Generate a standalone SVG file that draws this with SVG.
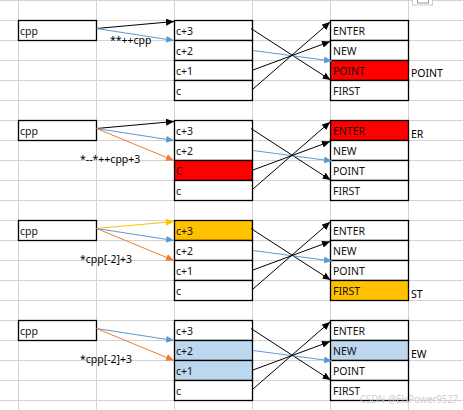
<svg xmlns="http://www.w3.org/2000/svg" width="463" height="410" viewBox="0 0 463 410">
<style>
.grid line{stroke:#d4d4d4;stroke-width:1}
.cell{fill:#fff;stroke:#000;stroke-width:1.3}
.t{font-family:"Noto Sans","Liberation Sans",sans-serif;font-size:10.5px;fill:#111}
.lbl{font-family:"Noto Sans","Liberation Sans",sans-serif;font-size:10.5px;fill:#000}
.red{fill:#ff0000}
.yel{fill:#ffc000}
.lb{fill:#bdd7ee}
.k{stroke:#000;stroke-width:1;fill:none}
.b{stroke:#5b9bd5;stroke-width:1;fill:none}
.o{stroke:#ed7d31;stroke-width:1;fill:none}
.y{stroke:#ffc000;stroke-width:1;fill:none}
</style>
<defs>
<marker id="ak" markerUnits="userSpaceOnUse" markerWidth="9" markerHeight="7" refX="8" refY="3.5" orient="auto"><path d="M0,0 L8,3.5 L0,7 z" fill="#000"/></marker>
<marker id="ab" markerUnits="userSpaceOnUse" markerWidth="9" markerHeight="7" refX="8" refY="3.5" orient="auto"><path d="M0,0 L8,3.5 L0,7 z" fill="#5b9bd5"/></marker>
<marker id="ao" markerUnits="userSpaceOnUse" markerWidth="9" markerHeight="7" refX="8" refY="3.5" orient="auto"><path d="M0,0 L8,3.5 L0,7 z" fill="#ed7d31"/></marker>
<marker id="ay" markerUnits="userSpaceOnUse" markerWidth="9" markerHeight="7" refX="8" refY="3.5" orient="auto"><path d="M0,0 L8,3.5 L0,7 z" fill="#ffc000"/></marker>
</defs>
<rect width="463" height="410" fill="#fff"/>
<g class="grid">
<line x1="0" y1="0.5" x2="463" y2="0.5"/><line x1="0" y1="20.5" x2="463" y2="20.5"/><line x1="0" y1="40.5" x2="463" y2="40.5"/><line x1="0" y1="60.5" x2="463" y2="60.5"/><line x1="0" y1="80.5" x2="463" y2="80.5"/><line x1="0" y1="100.5" x2="463" y2="100.5"/><line x1="0" y1="120.5" x2="463" y2="120.5"/><line x1="0" y1="140.5" x2="463" y2="140.5"/><line x1="0" y1="160.5" x2="463" y2="160.5"/><line x1="0" y1="180.5" x2="463" y2="180.5"/><line x1="0" y1="200.5" x2="463" y2="200.5"/><line x1="0" y1="220.5" x2="463" y2="220.5"/><line x1="0" y1="240.5" x2="463" y2="240.5"/><line x1="0" y1="260.5" x2="463" y2="260.5"/><line x1="0" y1="280.5" x2="463" y2="280.5"/><line x1="0" y1="300.5" x2="463" y2="300.5"/><line x1="0" y1="320.5" x2="463" y2="320.5"/><line x1="0" y1="340.5" x2="463" y2="340.5"/><line x1="0" y1="360.5" x2="463" y2="360.5"/><line x1="0" y1="380.5" x2="463" y2="380.5"/><line x1="0" y1="400.5" x2="463" y2="400.5"/>
<line x1="18.5" y1="0" x2="18.5" y2="410"/><line x1="96.5" y1="0" x2="96.5" y2="410"/><line x1="174.5" y1="0" x2="174.5" y2="410"/><line x1="252.5" y1="0" x2="252.5" y2="410"/><line x1="330.5" y1="0" x2="330.5" y2="410"/><line x1="408.5" y1="0" x2="408.5" y2="410"/>
<rect x="412.5" y="-3" width="20" height="8" fill="#fff" stroke="#ccc"/><rect x="417.5" y="-2" width="11" height="5" fill="#fff" stroke="#999"/>
</g>

<!-- Block 1 -->
<g id="cpp1"><rect class="cell" x="18.5" y="20.5" width="78" height="20"/><text class="t" x="20" y="35">cpp</text></g>
<g id="cp1">
<rect class="cell" x="174.5" y="20.5" width="78" height="20"/><text class="t" x="176" y="35">c+3</text>
<rect class="cell" x="174.5" y="40.5" width="78" height="20"/><text class="t" x="176" y="55">c+2</text>
<rect class="cell" x="174.5" y="60.5" width="78" height="20"/><text class="t" x="176" y="75">c+1</text>
<rect class="cell" x="174.5" y="80.5" width="78" height="20"/><text class="t" x="176" y="95">c</text>
</g>
<g id="c1">
<rect class="cell" x="330.5" y="20.5" width="78" height="20"/><text class="t" x="333" y="35">ENTER</text>
<rect class="cell" x="330.5" y="40.5" width="78" height="20"/><text class="t" x="333" y="55">NEW</text>
<rect class="cell red" x="330.5" y="60.5" width="78" height="20"/><text class="t" x="333" y="75">POINT</text>
<rect class="cell" x="330.5" y="80.5" width="78" height="20"/><text class="t" x="333" y="95">FIRST</text>
</g>
<g id="out1"><text class="lbl" x="411" y="77">POINT</text></g>
<g id="expr1"><text class="lbl" x="110" y="44">**++cpp</text></g>

<!-- Block 2 -->
<g id="cpp2"><rect class="cell" x="18.5" y="120.5" width="78" height="20"/><text class="t" x="20" y="135">cpp</text></g>
<g id="cp2">
<rect class="cell" x="174.5" y="120.5" width="78" height="20"/><text class="t" x="176" y="135">c+3</text>
<rect class="cell" x="174.5" y="140.5" width="78" height="20"/><text class="t" x="176" y="155">c+2</text>
<rect class="cell red" x="174.5" y="160.5" width="78" height="20"/><text class="t" x="176" y="175">C</text>
<rect class="cell" x="174.5" y="180.5" width="78" height="20"/><text class="t" x="176" y="195">c</text>
</g>
<g id="c2">
<rect class="cell red" x="330.5" y="120.5" width="78" height="20"/><text class="t" x="333" y="135">ENTER</text>
<rect class="cell" x="330.5" y="140.5" width="78" height="20"/><text class="t" x="333" y="155">NEW</text>
<rect class="cell" x="330.5" y="160.5" width="78" height="20"/><text class="t" x="333" y="175">POINT</text>
<rect class="cell" x="330.5" y="180.5" width="78" height="20"/><text class="t" x="333" y="195">FIRST</text>
</g>
<g id="out2"><text class="lbl" x="411" y="137.5">ER</text></g>
<g id="expr2"><text class="lbl" x="80" y="162.5">*--*++cpp+3</text></g>

<!-- Block 3 -->
<g id="cpp3"><rect class="cell" x="18.5" y="220.5" width="78" height="20"/><text class="t" x="20" y="235">cpp</text></g>
<g id="cp3">
<rect class="cell yel" x="174.5" y="220.5" width="78" height="20"/><text class="t" x="176" y="235">c+3</text>
<rect class="cell" x="174.5" y="240.5" width="78" height="20"/><text class="t" x="176" y="255">c+2</text>
<rect class="cell" x="174.5" y="260.5" width="78" height="20"/><text class="t" x="176" y="275">c+1</text>
<rect class="cell" x="174.5" y="280.5" width="78" height="20"/><text class="t" x="176" y="295">c</text>
</g>
<g id="c3">
<rect class="cell" x="330.5" y="220.5" width="78" height="20"/><text class="t" x="333" y="235">ENTER</text>
<rect class="cell" x="330.5" y="240.5" width="78" height="20"/><text class="t" x="333" y="255">NEW</text>
<rect class="cell" x="330.5" y="260.5" width="78" height="20"/><text class="t" x="333" y="275">POINT</text>
<rect class="cell yel" x="330.5" y="280.5" width="78" height="20"/><text class="t" x="333" y="295">FIRST</text>
</g>
<g id="out3"><text class="lbl" x="411" y="298">ST</text></g>
<g id="expr3"><text class="lbl" x="80" y="262.5">*cpp[-2]+3</text></g>

<!-- Block 4 -->
<g id="cpp4"><rect class="cell" x="18.5" y="320.5" width="78" height="20"/><text class="t" x="20" y="335">cpp</text></g>
<g id="cp4">
<rect class="cell" x="174.5" y="320.5" width="78" height="20"/><text class="t" x="176" y="335">c+3</text>
<rect class="cell lb" x="174.5" y="340.5" width="78" height="20"/><text class="t" x="176" y="355">c+2</text>
<rect class="cell lb" x="174.5" y="360.5" width="78" height="20"/><text class="t" x="176" y="375">c+1</text>
<rect class="cell" x="174.5" y="380.5" width="78" height="20"/><text class="t" x="176" y="395">c</text>
</g>
<g id="c4">
<rect class="cell" x="330.5" y="320.5" width="78" height="20"/><text class="t" x="333" y="335">ENTER</text>
<rect class="cell lb" x="330.5" y="340.5" width="78" height="20"/><text class="t" x="333" y="355">NEW</text>
<rect class="cell" x="330.5" y="360.5" width="78" height="20"/><text class="t" x="333" y="375">POINT</text>
<rect class="cell" x="330.5" y="380.5" width="78" height="20"/><text class="t" x="333" y="395">FIRST</text>
</g>
<g id="out4"><text class="lbl" x="411" y="357.5">EW</text></g>
<g id="expr4"><text class="lbl" x="80" y="362.5">*cpp[-2]+3</text></g>

<g id="connectors">
<!-- block 1 -->
<line class="k" x1="96.5" y1="28.5" x2="174" y2="21.5" marker-end="url(#ak)"/>
<line class="b" x1="96.5" y1="28.5" x2="174" y2="40.5" marker-end="url(#ab)"/>
<line class="k" x1="251" y1="28.5" x2="330.5" y2="80" marker-end="url(#ak)"/>
<line class="b" x1="253" y1="50.5" x2="332" y2="61" marker-end="url(#ab)"/>
<line class="k" x1="253" y1="70" x2="330" y2="41.5" marker-end="url(#ak)"/>
<line class="k" x1="253" y1="89" x2="330" y2="22" marker-end="url(#ak)"/>
<!-- block 2 -->
<line class="k" x1="96.5" y1="128.5" x2="174" y2="121.5" marker-end="url(#ak)"/>
<line class="b" x1="96.5" y1="128.5" x2="174" y2="140.5" marker-end="url(#ab)"/>
<line class="o" x1="96.5" y1="128.5" x2="174" y2="160.5" marker-end="url(#ao)"/>
<line class="k" x1="251" y1="128.5" x2="330.5" y2="180" marker-end="url(#ak)"/>
<line class="b" x1="253" y1="150.5" x2="332" y2="161" marker-end="url(#ab)"/>
<line class="k" x1="253" y1="170" x2="330" y2="141.5" marker-end="url(#ak)"/>
<line class="k" x1="253" y1="189" x2="330" y2="122" marker-end="url(#ak)"/>
<!-- block 3 -->
<line class="y" x1="96.5" y1="228.5" x2="174" y2="221.5" marker-end="url(#ay)"/>
<line class="b" x1="96.5" y1="228.5" x2="174" y2="240.5" marker-end="url(#ab)"/>
<line class="o" x1="96.5" y1="228.5" x2="174" y2="260.5" marker-end="url(#ao)"/>
<line class="k" x1="251" y1="228.5" x2="330.5" y2="280" marker-end="url(#ak)"/>
<line class="b" x1="253" y1="250.5" x2="332" y2="261" marker-end="url(#ab)"/>
<line class="k" x1="253" y1="270" x2="330" y2="241.5" marker-end="url(#ak)"/>
<line class="k" x1="253" y1="289" x2="330" y2="222" marker-end="url(#ak)"/>
<!-- block 4 -->
<line class="b" x1="96.5" y1="328.5" x2="174" y2="340.5" marker-end="url(#ab)"/>
<line class="o" x1="96.5" y1="328.5" x2="174" y2="360.5" marker-end="url(#ao)"/>
<line class="k" x1="251" y1="328.5" x2="330.5" y2="380" marker-end="url(#ak)"/>
<line class="b" x1="253" y1="350.5" x2="332" y2="361" marker-end="url(#ab)"/>
<line class="k" x1="253" y1="370" x2="330" y2="341.5" marker-end="url(#ak)"/>
<line class="k" x1="253" y1="389" x2="330" y2="322" marker-end="url(#ak)"/>
</g>
<text x="360" y="403" font-family="'Noto Sans','Liberation Sans',sans-serif" font-size="10" textLength="98" lengthAdjust="spacingAndGlyphs" fill="#c8c8c8" fill-opacity="0.9">CSDN @ElsPower9527</text>
</svg>
